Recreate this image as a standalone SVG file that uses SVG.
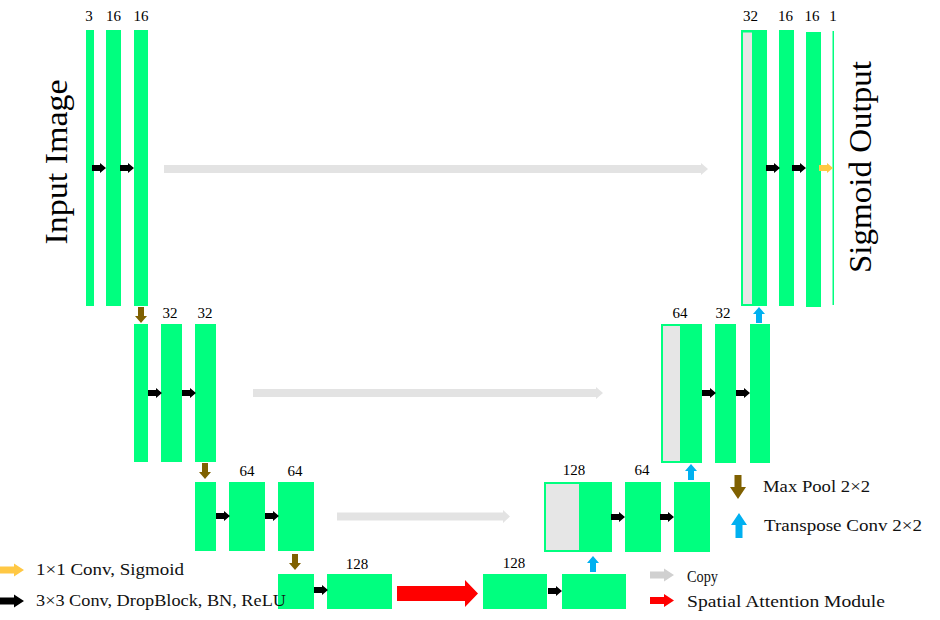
<svg xmlns="http://www.w3.org/2000/svg" xmlns:xlink="http://www.w3.org/1999/xlink" width="940" height="620" viewBox="0 0 940 620">
<style>
.fm{fill:#00FF7F}
.cp{fill:#E6E6E6}
.num{font-family:"Liberation Serif",serif;font-size:15px;fill:#000;text-anchor:middle}
.big{font-family:"Liberation Serif",serif;font-size:31px;fill:#000;text-anchor:middle}
.leg{font-family:"Liberation Serif",serif;font-size:16px;fill:#111}
.blk{fill:#000}
.yel{fill:#FFC844}
.brn{fill:#7F6000}
.blu{fill:#00B0F0}
.gry{fill:#E3E3E3}
.red{fill:#FF0000}
</style>
<defs>
<path id="ar" d="M0,-3 H8 V-5 L14,0 L8,5 V3 H0 Z"/>
<path id="dn" d="M-3,0 H3 V9 H6 L0,16 L-6,9 H-3 Z"/>
<path id="up" d="M-3,0 V-9 H-6 L0,-16 L6,-9 H3 V0 Z"/>
<path id="lar" d="M0,-3.5 H14 V-6.5 L24,0 L14,6.5 V3.5 H0 Z"/>
</defs>
<rect width="940" height="620" fill="#fff"/>
<text class="big" transform="translate(67,162) rotate(-90)" textLength="165" lengthAdjust="spacingAndGlyphs">Input Image</text>
<text class="big" transform="translate(871,167) rotate(-90)" textLength="212" lengthAdjust="spacingAndGlyphs">Sigmoid Output</text>
<g id="enc1">
<rect class="fm" x="86" y="30" width="8" height="276"/>
<rect class="fm" x="106" y="30" width="15" height="276"/>
<rect class="fm" x="134" y="30" width="14" height="276"/>
<text class="num" x="89" y="21">3</text>
<text class="num" x="113.5" y="21">16</text>
<text class="num" x="141" y="21">16</text>
</g>
<g id="enc2">
<rect class="fm" x="134" y="324" width="14" height="138"/>
<rect class="fm" x="161" y="324" width="21" height="138"/>
<rect class="fm" x="195" y="324" width="21" height="138"/>
<text class="num" x="170" y="318">32</text>
<text class="num" x="205" y="318">32</text>
</g>
<g id="enc3">
<rect class="fm" x="195" y="482" width="21" height="69"/>
<rect class="fm" x="229" y="482" width="36" height="69"/>
<rect class="fm" x="278" y="482" width="36" height="69"/>
<text class="num" x="247" y="476">64</text>
<text class="num" x="295" y="476">64</text>
</g>
<g id="bottleneck">
<rect class="fm" x="278" y="574" width="36" height="35"/>
<rect class="fm" x="327" y="574" width="65" height="35"/>
<text class="num" x="357" y="569">128</text>
<rect class="fm" x="483" y="574" width="64" height="35"/>
<rect class="fm" x="562" y="574" width="64" height="35"/>
<text class="num" x="514" y="568">128</text>
</g>
<g id="dec3">
<rect class="fm" x="544" y="482" width="68" height="70"/>
<rect class="cp" x="546" y="484" width="33" height="66"/>
<rect class="fm" x="625" y="482" width="36" height="70"/>
<rect class="fm" x="674" y="482" width="36" height="70"/>
<text class="num" x="574" y="475">128</text>
<text class="num" x="642" y="475">64</text>
</g>
<g id="dec2">
<rect class="fm" x="661" y="324" width="41" height="139"/>
<rect class="cp" x="663" y="326" width="17" height="135"/>
<rect class="fm" x="715" y="324" width="21" height="139"/>
<rect class="fm" x="750" y="324" width="20" height="139"/>
<text class="num" x="680" y="318">64</text>
<text class="num" x="723" y="318">32</text>
</g>
<g id="dec1">
<rect class="fm" x="741" y="30" width="26" height="276"/>
<rect class="cp" x="743" y="32.5" width="9" height="271.5"/>
<rect class="fm" x="779" y="30" width="15" height="276"/>
<rect class="fm" x="806" y="32" width="15" height="275"/>
<rect class="fm" x="832.5" y="31" width="1.5" height="274"/>
<text class="num" x="750.5" y="21">32</text>
<text class="num" x="785.5" y="21">16</text>
<text class="num" x="812" y="21">16</text>
<text class="num" x="833" y="21">1</text>
</g>
<g id="connectors">
<path class="gry" d="M164,165 H701 V163 L708,169 L701,175 V173 H164 Z"/>
<path class="gry" d="M253,389 H596 V387 L603,393 L596,399 V397 H253 Z"/>
<path class="gry" d="M337,512.5 H503 V510 L510,516.5 L503,523 V520.5 H337 Z"/>
<path class="red" d="M397,586 H465 V580 L478,593.5 L465,607 V601 H397 Z"/>
<use href="#ar" class="blk" x="92" y="168"/>
<use href="#ar" class="blk" x="120" y="168"/>
<use href="#ar" class="blk" x="148" y="393"/>
<use href="#ar" class="blk" x="182" y="393"/>
<use href="#ar" class="blk" x="216" y="516"/>
<use href="#ar" class="blk" x="265" y="516"/>
<use href="#ar" class="blk" x="314" y="590"/>
<use href="#ar" class="blk" x="548" y="591"/>
<use href="#ar" class="blk" x="611" y="517"/>
<use href="#ar" class="blk" x="660" y="517"/>
<use href="#ar" class="blk" x="702" y="393"/>
<use href="#ar" class="blk" x="736" y="393"/>
<use href="#ar" class="blk" x="766" y="168"/>
<use href="#ar" class="blk" x="792" y="168"/>
<use href="#ar" class="yel" x="819" y="168"/>
<use href="#dn" class="brn" x="141" y="307"/>
<use href="#dn" class="brn" x="205" y="463"/>
<use href="#dn" class="brn" x="295" y="554"/>
<use href="#up" class="blu" x="593" y="572"/>
<use href="#up" class="blu" x="691" y="480"/>
<use href="#up" class="blu" x="759" y="323"/>
</g>
<g id="legend">
<use href="#lar" class="yel" x="0" y="570"/>
<text class="leg" x="36" y="575" textLength="148" lengthAdjust="spacingAndGlyphs">1×1 Conv, Sigmoid</text>
<use href="#lar" class="blk" x="0" y="601"/>
<text class="leg" x="36" y="606" textLength="250" lengthAdjust="spacingAndGlyphs">3×3 Conv, DropBlock, BN, ReLU</text>
<path class="brn" d="M734.5,475 H741.5 V487 H746 L738,499 L730,487 H734.5 Z"/>
<text class="leg" x="763" y="492" textLength="107" lengthAdjust="spacingAndGlyphs">Max Pool 2×2</text>
<path class="blu" d="M735.5,538 V525 H731 L739,513 L747,525 H742.5 V538 Z"/>
<text class="leg" x="764" y="531" textLength="158" lengthAdjust="spacingAndGlyphs">Transpose Conv 2×2</text>
<use href="#lar" x="650" y="575" style="fill:#D0D0D0"/>
<text class="leg" x="687" y="582" textLength="31" lengthAdjust="spacingAndGlyphs">Copy</text>
<use href="#lar" class="red" x="650" y="600.5"/>
<text class="leg" x="687" y="607" textLength="198" lengthAdjust="spacingAndGlyphs">Spatial Attention Module</text>
</g>
</svg>
